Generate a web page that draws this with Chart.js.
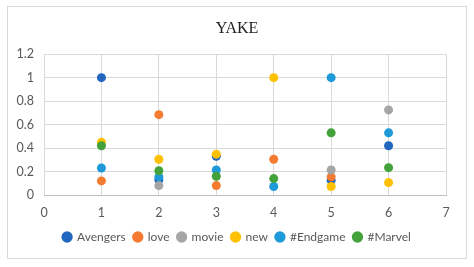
<!DOCTYPE html>
<html>
<head>
<meta charset="utf-8">
<script src="https://cdn.jsdelivr.net/npm/chart.js@4"></script>
<style>
  body { margin: 0; background: #fff; }
  #wrap { position: relative; width: 474px; height: 267px; }
  #frame { position: absolute; left: 7px; top: 6px; width: 458px; height: 251px; border: 1px solid #d9d9d9; }
  canvas { position: absolute; left: 0; top: 0; }
</style>
</head>
<body>
<div id="wrap">
  <div id="frame"></div>
  <canvas id="myChart" width="474" height="267"></canvas>
</div>
<script>
const xValues = [1, 2, 3, 4, 5, 6];
const seriesNames = ["Avengers", "love", "movie", "new", "#Endgame", "#Marvel"];
const avengers = [1.0, 0.13, 0.33, null, 0.125, 0.42];
const love = [0.12, 0.685, 0.08, 0.305, 0.155, null];
const movie = [null, 0.08, null, null, 0.213, 0.725];
const newVals = [0.45, 0.305, 0.348, 1.0, 0.072, 0.106];
const endgame = [0.23, 0.155, 0.213, 0.072, 1.0, 0.53];
const marvel = [0.42, 0.207, 0.16, 0.14, 0.53, 0.233];
const yTickLabels = ["0", "0.2", "0.4", "0.6", "0.8", "1", "1.2"];
const xTickLabels = ["0", "1", "2", "3", "4", "5", "6", "7"];

const colors = ["#2166bf", "#f47b30", "#a5a5a5", "#ffc000", "#1e9ad8", "#43a23c"];
const allSeries = [avengers, love, movie, newVals, endgame, marvel];

const ctx = document.getElementById("myChart").getContext("2d");

const datasets = allSeries.map((vals, i) => ({
  label: seriesNames[i],
  data: xValues.map((x, j) => ({ x: x, y: vals[j] })).filter(p => p.y !== null),
  backgroundColor: colors[i],
  borderColor: colors[i],
  pointRadius: 4.5,
  pointHoverRadius: 4.5,
  borderWidth: 0,
  // Excel draws later series on top
  order: allSeries.length - i,
}));

new Chart(ctx, {
  type: "scatter",
  data: { datasets: datasets },
  options: {
    responsive: false,
    animation: false,
    layout: { padding: { left: 0, right: 0, top: 0, bottom: 14 } },
    plugins: {
      title: {
        display: true,
        text: "YAKE",
        color: "#222",
        font: { family: "Liberation Serif", size: 16, weight: "normal" },
        padding: { top: 19, bottom: 16 },
      },
      legend: {
        position: "bottom",
        labels: {
          usePointStyle: true,
          pointStyle: "circle",
          boxWidth: 8,
          boxHeight: 8,
          padding: 8,
          color: "#595959",
          font: { family: "Lato", size: 12 },
          // legend items follow dataset index, not draw order
          sort: (a, b) => a.datasetIndex - b.datasetIndex,
        },
      },
      tooltip: { enabled: false },
    },
    scales: {
      x: {
        type: "linear",
        min: 0,
        max: 7,
        ticks: {
          stepSize: 1,
          color: "#595959",
          font: { family: "Lato", size: 12.5 },
          padding: 10,
          callback: (v, i) => xTickLabels[i],
        },
        grid: { color: "#d9d9d9", drawTicks: false },
        border: { color: "#bfbfbf" },
        afterFit: s => { s.height = 28; },
      },
      y: {
        min: 0,
        max: 1.2,
        ticks: {
          stepSize: 0.2,
          color: "#595959",
          font: { family: "Lato", size: 12.5 },
          padding: 10,
          callback: (v, i) => yTickLabels[i],
        },
        grid: { color: "#d9d9d9", drawTicks: false },
        border: { display: false },
        afterFit: s => { s.width = 44; },
      },
      // empty right-hand spacer so the plot ends where the reference does
      spacer: {
        type: "linear",
        position: "right",
        ticks: { display: false },
        grid: { display: false },
        border: { display: false },
        afterFit: s => { s.width = 28; },
      },
    },
  },
});
</script>
</body>
</html>
